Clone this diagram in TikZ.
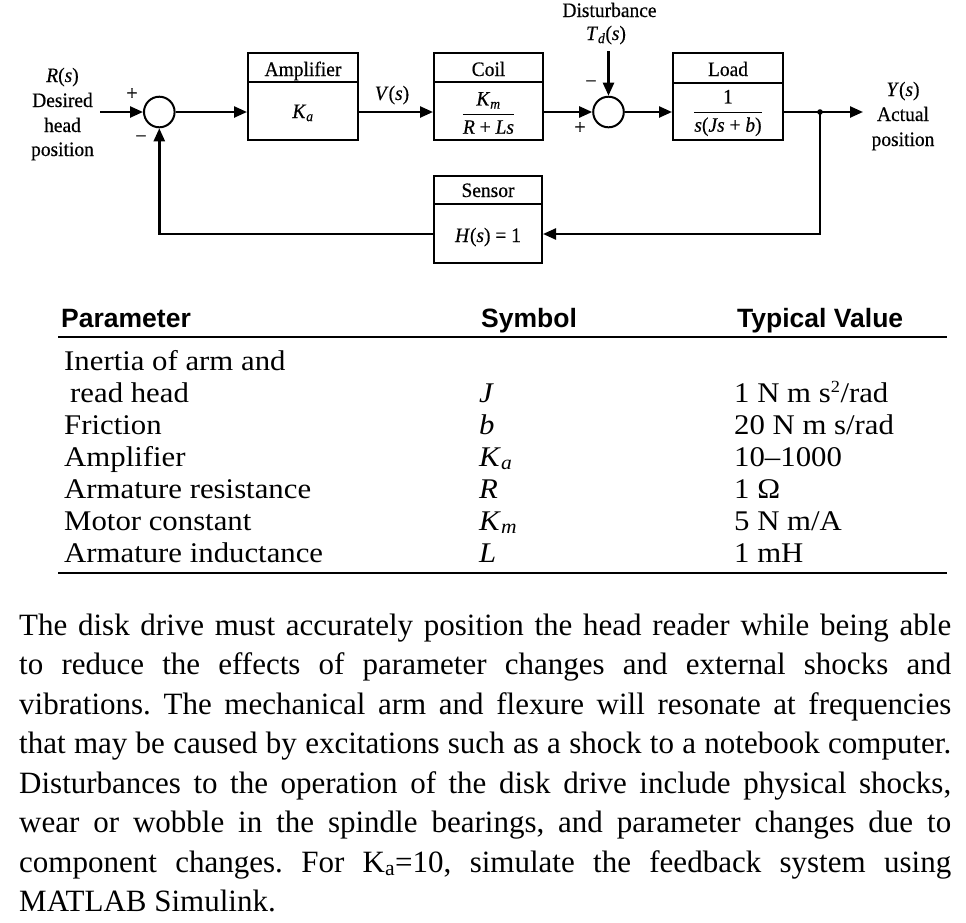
\documentclass[tikz,border=0pt]{standalone}
\usepackage{fontspec}
\usepackage{amsmath}
\setmainfont{Liberation Serif}
\newfontfamily\hdrfont{Liberation Sans}
\newfontfamily\tabfont[FakeStretch=1.08]{Liberation Serif}
\newfontfamily\diafont[FakeBold=0.4,FakeStretch=0.95]{Liberation Serif}
\usetikzlibrary{arrows.meta,calc}
\newcommand{\dfont}{\diafont\fontsize{20.5pt}{24pt}\selectfont}
\newcommand{\tfont}{\tabfont\fontsize{28.5pt}{32pt}\selectfont}
\newcommand{\hfont}{\hdrfont\bfseries\fontsize{26.5pt}{30pt}\selectfont}
\newcommand{\pfont}{\frenchspacing\fontsize{31pt}{39.5pt}\selectfont}
\tikzset{
  blk/.style={draw, line width=2pt, minimum width=110pt, minimum height=87pt, inner sep=0pt},
  sumc/.style={draw, circle, line width=2pt, minimum size=30.6pt, inner sep=0pt},
  arr/.style={line width=2.4pt, -{Triangle[length=13pt,width=11pt]}},
  divl/.style={line width=2pt},
  dlab/.style={font=\dfont, inner sep=0pt, anchor=base},
  tcell/.style={font=\tfont, inner sep=0pt, anchor=base west},
  hcell/.style={font=\hfont, inner sep=0pt, anchor=base west},
  pline/.style={font=\pfont, inner sep=0pt, anchor=base west},
  rulel/.style={line width=1.6pt},
  ruleb/.style={line width=2.4pt}
}
\begin{document}
\begin{tikzpicture}[x=1pt,y=-1pt]
\fill[white] (0,0) rectangle (966,922);
\useasboundingbox (0,0) rectangle (966,922);

% ---------- block diagram ----------
\node[sumc] (s1) at (159.3,112) {};
\node[blk, minimum width=110pt] (amp) at (303,96.5) {};
\node[blk, minimum width=109pt] (coil) at (488.5,96.5) {};
\node[sumc] (s2) at (608.5,112) {};
\node[blk, minimum width=110pt] (load) at (728,96.5) {};
\node[blk, minimum width=108pt] (sens) at (488,219.5) {};

\draw[divl] ($(amp.north west)+(0,30)$) -- ($(amp.north east)+(0,30)$);
\draw[divl] ($(coil.north west)+(0,30)$) -- ($(coil.north east)+(0,30)$);
\draw[divl] ($(load.north west)+(0,31)$) -- ($(load.north east)+(0,31)$);
\draw[divl] ($(sens.north west)+(0,28.5)$) -- ($(sens.north east)+(0,28.5)$);

\node[dlab] (ampT) at (303,76) {Amplifier};
\node[dlab] (ampK) at (303,118) {\textit{K}\textsubscript{\textit{a}}};
\node[dlab] (coilT) at (488.5,76) {Coil};
\node[font=\dfont, inner sep=0pt] (coilF) at (488.5,113) {$\dfrac{\mbox{\textit{K}\textsubscript{\textit{m}}}}{\mbox{\textit{R} + \textit{Ls}}}$};
\node[dlab] (loadT) at (728,76) {Load};
\node[font=\dfont, inner sep=0pt] (loadF) at (728,113) {$\dfrac{\mbox{1}}{\mbox{\textit{s}(\textit{Js} + \textit{b})}}$};
\node[dlab] (sensT) at (488,197) {Sensor};
\node[dlab] (sensH) at (488,242) {\textit{H}(\textit{s}) = 1};

% labels
\node[dlab] (r1) at (62.5,82) {\textit{R}(\textit{s})};
\node[dlab] (r2) at (62.5,107) {Desired};
\node[dlab] (r3) at (62.5,132) {head};
\node[dlab] (r4) at (62.5,156) {position};
\node[dlab] (y1) at (903,96) {\textit{Y}(\textit{s})};
\node[dlab] (y2) at (903,121) {Actual};
\node[dlab] (y3) at (903,146) {position};
\node[dlab] (vs) at (392,100) {\textit{V}(\textit{s})};
\node[dlab] (dist) at (609.5,17) {Disturbance};
\node[dlab] (td) at (606,40) {\textit{T}\textsubscript{\textit{d}}(\textit{s})};
\node[font=\dfont, inner sep=0pt] (s1p) at (132,94) {+};
\node[font=\dfont, inner sep=0pt] (s1m) at (141,139) {−};
\node[font=\dfont, inner sep=0pt] (s2m) at (591,84) {−};
\node[font=\dfont, inner sep=0pt] (s2p) at (580,128) {+};

% connectors
\coordinate (in) at (100,112);
\coordinate (dtop) at (608.5,51);
\coordinate (jn) at (820,112);
\coordinate (out) at (863,112);
\coordinate (fbR) at (820,234);
\draw[arr] (in) -- (s1.west);
\draw[arr] (s1.east) -- (amp.west |- s1.east);
\draw[arr] (amp.east |- s1.east) -- (coil.west |- s1.east);
\draw[arr] (coil.east |- s2.west) -- (s2.west);
\draw[arr] (dtop) -- (s2.north);
\draw[arr] (s2.east) -- (load.west |- s2.east);
\draw[arr] (load.east |- s2.east) -- (out);
\fill (jn) circle (2.8pt);
\draw[arr] (jn) -- (fbR) -- (fbR -| sens.east);
\draw[arr] (fbR -| sens.west) -| (s1.south);

% ---------- table ----------
\node[hcell] (hP) at (61,327) {Parameter};
\node[hcell] (hS) at (481,327) {Symbol};
\node[hcell] (hV) at (737,327) {Typical Value};
\coordinate (rt1) at (58,337);
\coordinate (rt2) at (947,337);
\coordinate (rb1) at (58,573);
\coordinate (rb2) at (947,573);
\draw[rulel] (rt1) -- (rt2);
\draw[ruleb] (rb1) -- (rb2);

\node[tcell] (a0) at (64,370) {Inertia of arm and};
\node[tcell] (a1) at (70,402) {read head};
\node[tcell] (b1) at (479,402) {\textit{J}};
\node[tcell] (c1) at (734,402) {1 N m s\textsuperscript{\fontsize{17pt}{17pt}\selectfont 2}/rad};
\node[tcell] (a2) at (64,434) {Friction};
\node[tcell] (b2) at (479,434) {\textit{b}};
\node[tcell] (c2) at (734,434) {20 N m s/rad};
\node[tcell] (a3) at (64,466) {Amplifier};
\node[tcell] (b3) at (479,466) {\textit{K}\textsubscript{\textit{a}}};
\node[tcell] (c3) at (734,466) {10–1000};
\node[tcell] (a4) at (64,498) {Armature resistance};
\node[tcell] (b4) at (479,498) {\textit{R}};
\node[tcell] (c4) at (734,498) {1 Ω};
\node[tcell] (a5) at (64,530) {Motor constant};
\node[tcell] (b5) at (479,530) {\textit{K}\textsubscript{\textit{m}}};
\node[tcell] (c5) at (734,530) {5 N m/A};
\node[tcell] (a6) at (64,562) {Armature inductance};
\node[tcell] (b6) at (479,562) {\textit{L}};
\node[tcell] (c6) at (734,562) {1 mH};

% ---------- paragraph ----------
\node[pline] (p1) at (19,635) {\makebox[932pt][s]{The disk drive must accurately position the head reader while being able}};
\node[pline] (p2) at (19,674.5) {\makebox[932pt][s]{to reduce the effects of parameter changes and external shocks and}};
\node[pline] (p3) at (19,714) {\makebox[932pt][s]{vibrations. The mechanical arm and flexure will resonate at frequencies}};
\node[pline] (p4) at (19,753.5) {\makebox[932pt][s]{that may be caused by excitations such as a shock to a notebook computer.}};
\node[pline] (p5) at (19,793) {\makebox[932pt][s]{Disturbances to the operation of the disk drive include physical shocks,}};
\node[pline] (p6) at (19,832.5) {\makebox[932pt][s]{wear or wobble in the spindle bearings, and parameter changes due to}};
\node[pline] (p7) at (19,872) {\makebox[932pt][s]{component changes. For K\textsubscript{a}=10, simulate the feedback system using}};
\node[pline] (p8) at (19,911.5) {MATLAB Simulink.};
\end{tikzpicture}
\end{document}
